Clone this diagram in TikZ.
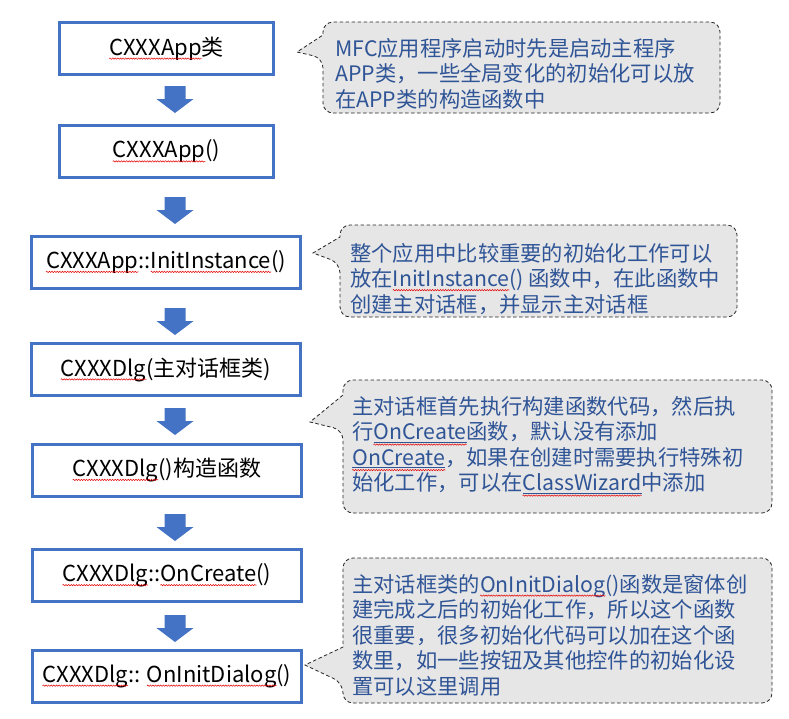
\documentclass[tikz,border=0pt]{standalone}
\usepackage{fontspec}
\setmainfont{Noto Sans CJK SC}
\usetikzlibrary{decorations.pathmorphing}
\definecolor{boxblue}{RGB}{68,114,196}
\definecolor{txtblue}{RGB}{47,85,151}
\definecolor{cfill}{RGB}{231,230,230}
\newsavebox\sqbox
\newcommand\sq[1]{\sbox\sqbox{#1}\rlap{\usebox\sqbox}\tikz[baseline=0pt]{\useasboundingbox (0pt,0pt) rectangle (\wd\sqbox,0pt);\draw[sqwave] (0pt,-3.4pt) -- (\wd\sqbox,-3.4pt);}}
\newcommand\sqb[1]{\sbox\sqbox{#1}\rlap{\usebox\sqbox}\tikz[baseline=0pt]{\useasboundingbox (0pt,0pt) rectangle (\wd\sqbox,0pt);\draw[txtblue,line width=1pt,solid] (0pt,-2.4pt) -- (\wd\sqbox,-2.4pt);\draw[sqwave] (0pt,-4.8pt) -- (\wd\sqbox,-4.8pt);}}
\newcommand\calloutshape[8]{%
  \draw[cshape] ({(#1+#3)/2},#2) [rounded corners=10pt] -- (#3,#2) -- (#3,#4) -- (#1,#4) -- (#1,#8) [sharp corners] -- (#5,#6) -- (#1,#7) [rounded corners=10pt] -- (#1,#2) -- cycle;}
\tikzset{
  sqwave/.style={red!90!black, line width=0.5pt, solid, decorate, decoration={snake, amplitude=0.7pt, segment length=2.6pt}},
  flowbox/.style={draw=boxblue, line width=3pt, fill=white, minimum height=52pt, font=\fontsize{22}{26}\selectfont, text=black, inner sep=0pt},
  ctext/.style={text=txtblue, font=\fontsize{21.3}{25.5}\selectfont, align=left, inner sep=0pt, anchor=north west},
  cshape/.style={draw=black!85, fill=cfill, line width=0.8pt, dash pattern=on 3.5pt off 2.5pt},
  blockarrow/.pic={\fill[boxblue] (-10.5,0) -- (10.5,0) -- (10.5,13) -- (18.5,13) -- (0,27) -- (-18.5,13) -- (-10.5,13) -- cycle;}
}
\begin{document}
\begin{tikzpicture}[x=1pt,y=-1pt]
\useasboundingbox (0,0) rectangle (789,718);
\fill[white] (0,0) rectangle (789,718);

% flow boxes
\node[flowbox, minimum width=214pt] (b1) at (166.5,48.5) {\sq{CXXXApp}类};
\node[flowbox, minimum width=214pt] (b2) at (166.5,151.5) {\sq{CXXXApp}()};
\node[flowbox, minimum width=269pt] (b3) at (166,262) {\sq{CXXXApp}::\sq{InitInstance}()};
\node[flowbox, minimum width=269pt] (b4) at (166,369.5) {\sq{CXXXDlg}(主对话框类)};
\node[flowbox, minimum width=269pt] (b5) at (167,470) {\sq{CXXXDlg}()构造函数};
\node[flowbox, minimum width=269pt] (b6) at (167,575.5) {\sq{CXXXDlg}::\sq{OnCreate}()};
\node[flowbox, minimum width=269pt] (b7) at (167,676) {\sq{CXXXDlg}:: \sq{OnInitDialog}()};

% block arrows
\pic (a1) at (175,86) {blockarrow};
\pic (a2) at (175,197) {blockarrow};
\pic (a3) at (175,308) {blockarrow};
\pic (a4) at (175,408) {blockarrow};
\pic (a5) at (175,514) {blockarrow};
\pic (a6) at (175,615) {blockarrow};

% callouts
\calloutshape{323}{22}{720}{113}{297}{52}{35}{58}
\node[ctext] (c1) at (335,38) {MFC应用程序启动时先是启动主程序\\APP类，一些全局变化的初始化可以放\\在APP类的构造函数中};

\calloutshape{340}{225}{737}{317}{313}{253}{237}{263}
\node[ctext] (c2) at (350,243) {整个应用中比较重要的初始化工作可以\\放在\sq{InitInstance}() 函数中，在此函数中\\创建主对话框，并显示主对话框};

\calloutshape{343}{380}{772}{513}{310}{422}{395}{430}
\node[ctext] (c3) at (352,396) {主对话框首先执行构建函数代码，然后执\\行\sqb{OnCreate}函数，默认没有添加\\\sqb{OnCreate}，如果在创建时需要执行特殊初\\始化工作，可以在\sqb{ClassWizard}中添加};

\calloutshape{343}{558}{772}{703}{305}{665}{647}{683}
\node[ctext] (c4) at (352,574) {主对话框类的\sq{OnInitDialog}()函数是窗体创\\建完成之后的初始化工作，所以这个函数\\很重要，很多初始化代码可以加在这个函\\数里，如一些按钮及其他控件的初始化设\\置可以这里调用};
\end{tikzpicture}
\end{document}
